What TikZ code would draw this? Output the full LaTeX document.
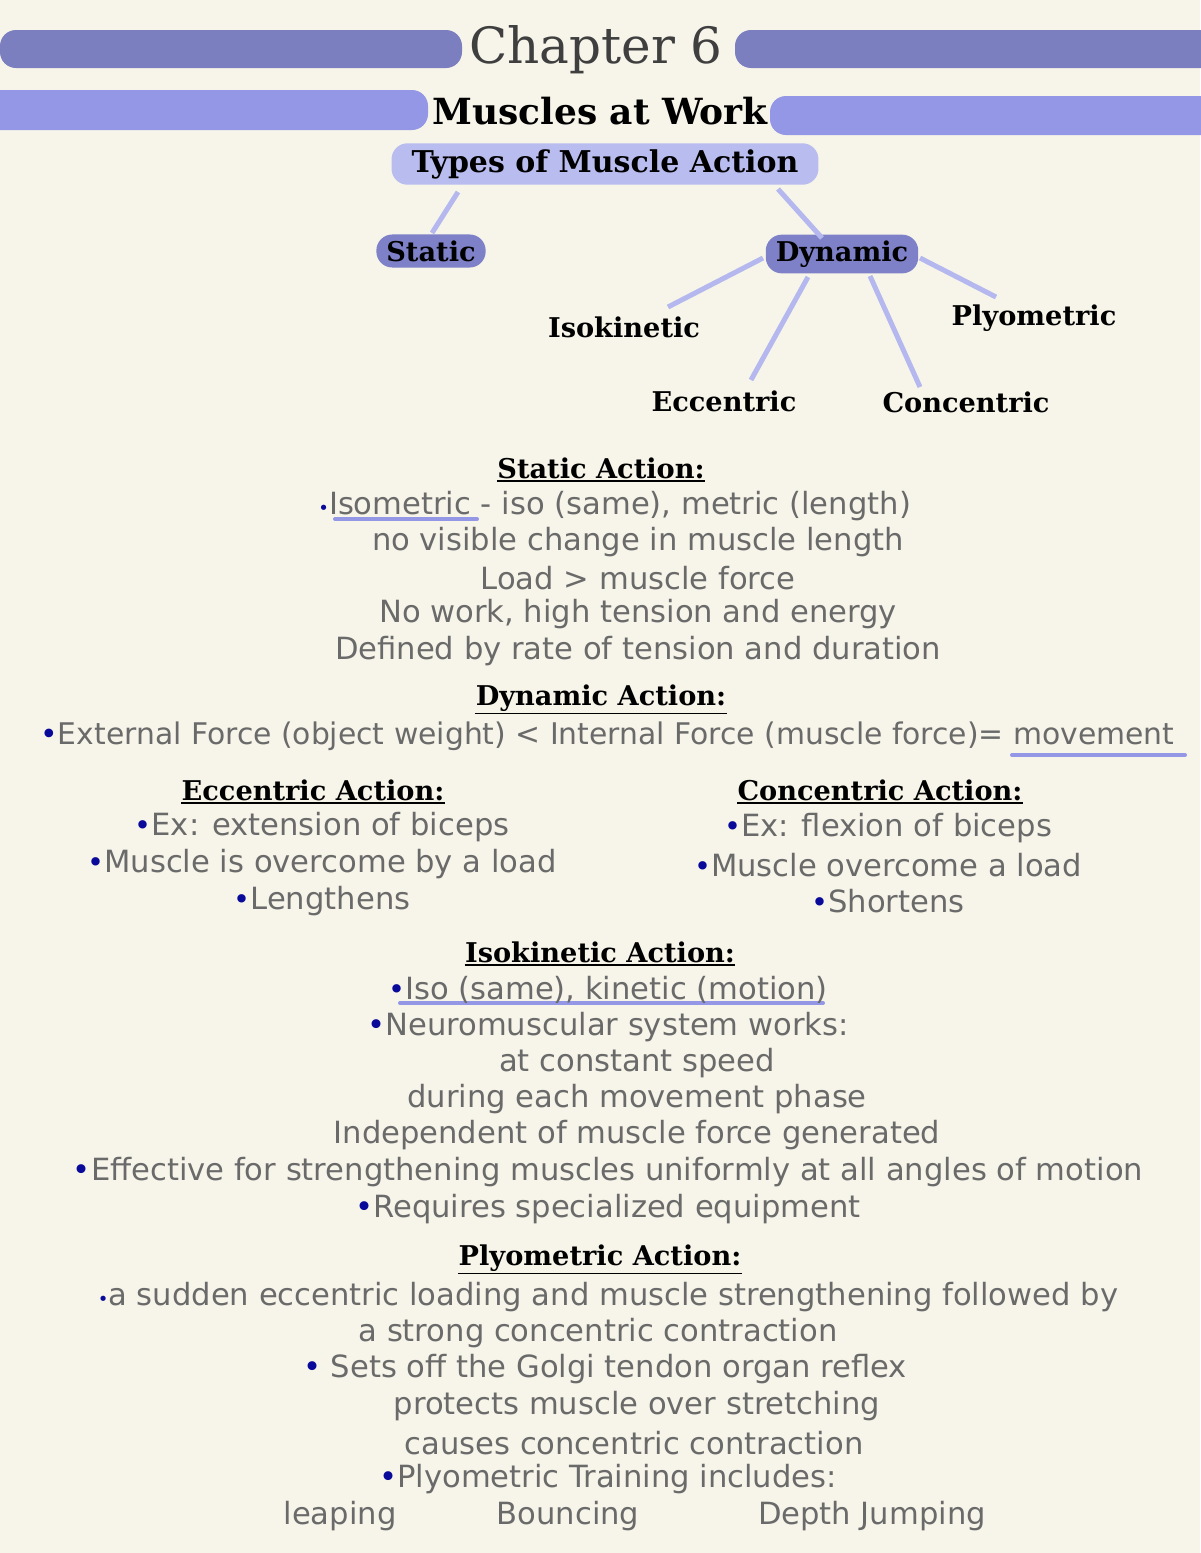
\documentclass[tikz,border=0pt]{standalone}
\usepackage{fontspec}
\setmainfont{Liberation Sans}
\newfontfamily\bd{DejaVu Sans}
\newfontfamily\hd{DejaVu Serif}
\definecolor{bg}{HTML}{F7F5E9}
\definecolor{barA}{HTML}{7B7EBF}
\definecolor{barB}{HTML}{9397E6}
\definecolor{boxA}{HTML}{B9BCEF}
\definecolor{boxB}{HTML}{7E81C8}
\definecolor{ln}{HTML}{B5B8EE}
\definecolor{bul}{HTML}{0A0A9A}
\definecolor{txt}{HTML}{6A6A6A}
\begin{document}
\begin{tikzpicture}[x=0.5pt,y=-0.5pt,
 body/.style={font=\bd\fontsize{15.3}{18}\selectfont,text=txt,inner sep=0},
 head/.style={font=\hd\bfseries\fontsize{13.6}{16}\selectfont,inner sep=0,
   append after command={([yshift=-1pt]\tikzlastnode.south west) edge[black,line width=0.7pt] ([yshift=-1pt]\tikzlastnode.south east)}},
 tree/.style={font=\hd\bfseries\fontsize{13.6}{16}\selectfont,inner sep=0},
 pill/.style={rounded corners=8pt,inner xsep=6pt,inner ysep=3pt},
 conn/.style={ln,line width=2.5pt},
 hl/.style={barB,line width=2pt,line cap=round}]
\fill[bg] (0,0) rectangle (1200,1553);
\useasboundingbox (0,0) rectangle (1200,1553);
% bars
\fill[barA,rounded corners=8pt] (0,30) rectangle (462,68);
\fill[barA,rounded corners=8pt] (735,30) rectangle (1230,68);
\fill[barB,rounded corners=8pt] (-20,90) rectangle (428,130);
\fill[barB,rounded corners=8pt] (770,96) rectangle (1230,135);
\node[font=\hd\fontsize{25}{30}\selectfont,text=txt!60!black,inner sep=0] (ch) at (596,50) {Chapter 6};
\node[font=\hd\bfseries\fontsize{18}{22}\selectfont,inner sep=0] (mw) at (600,111) {Muscles at Work};
% tree
\node[tree,fill=boxA,pill,font=\hd\bfseries\fontsize{15}{18}\selectfont,inner xsep=10pt] (types) at (605,164) {Types of Muscle Action};
\node[tree,fill=boxB,pill,inner xsep=5pt] (st) at (431,251) {Static};
\node[tree,fill=boxB,pill,inner xsep=5pt] (dy) at (842,254) {Dynamic};
\node[tree] (iso) at (624,327) {Isokinetic};
\node[tree] (ply) at (1034,318) {Plyometric};
\node[tree] (ecc) at (724,401) {Eccentric};
\node[tree] (con) at (966,402) {Concentric};
\draw[conn] (458,192) -- (432,233);
\draw[conn] (778,189) -- (822,238);
\draw[conn] (763,258) -- (668,307);
\draw[conn] (920,258) -- (996,297);
\draw[conn] (808,277) -- (751,380);
\draw[conn] (870,276) -- (920,387);
% static
\node[head] (sa) at (601,468) {Static Action:};
\draw[hl] (335,519) -- (477,519);
\node[body,anchor=west] (s1) at (318,506) {\textcolor{bul}{\small\textbullet}Isometric - iso (same), metric (length)};
\node[body] (s2) at (638,542) {no visible change in muscle length};
\node[body] (s3) at (638,578) {Load > muscle force};
\node[body] (s4) at (638,614) {No work, high tension and energy};
\node[body] (s5) at (638,651) {Defined by rate of tension and duration};
% dynamic
\node[head] (da) at (601,698) {Dynamic Action:};
\draw[hl] (1012,755) -- (1185,755);
\node[body,anchor=west,font=\bd\fontsize{14.9}{18}\selectfont] (d1) at (40,736) {\textcolor{bul}{\textbullet}External Force (object weight) < Internal Force (muscle force)= movement};
% eccentric / concentric
\node[head] (ea) at (313,790) {Eccentric Action:};
\node[body] (e1) at (322,827) {\textcolor{bul}{\Large\textbullet}Ex: extension of biceps};
\node[body] (e2) at (322,864) {\textcolor{bul}{\Large\textbullet}Muscle is overcome by a load};
\node[body] (e3) at (322,901) {\textcolor{bul}{\Large\textbullet}Lengthens};
\node[head] (ca) at (880,790) {Concentric Action:};
\node[body] (c1) at (888,828) {\textcolor{bul}{\Large\textbullet}Ex: flexion of biceps};
\node[body] (c2) at (888,865) {\textcolor{bul}{\Large\textbullet}Muscle overcome a load};
\node[body] (c3) at (888,901) {\textcolor{bul}{\Large\textbullet}Shortens};
% isokinetic
\node[head] (ia) at (600,952) {Isokinetic Action:};
\draw[hl] (400,1003) -- (823,1003);
\node[body] (i1) at (608,990) {\textcolor{bul}{\Large\textbullet}Iso (same), kinetic (motion)};
\node[body] (i2) at (608,1027) {\textcolor{bul}{\textbullet}Neuromuscular system works:};
\node[body] (i3) at (637,1063) {at constant speed};
\node[body] (i4) at (637,1099) {during each movement phase};
\node[body] (i5) at (637,1135) {Independent of muscle force generated};
\node[body] (i6) at (608,1172) {\textcolor{bul}{\textbullet}Effective for strengthening muscles uniformly at all angles of motion};
\node[body] (i7) at (608,1209) {\textcolor{bul}{\textbullet}Requires specialized equipment};
% plyometric
\node[head] (pa) at (600,1258) {Plyometric Action:};
\node[body] (p1) at (608,1297) {\textcolor{bul}{\small\textbullet}a sudden eccentric loading and muscle strengthening followed by};
\node[body] (p2) at (598,1333) {a strong concentric contraction};
\node[body] (p3) at (605,1369) {\textcolor{bul}{\textbullet} Sets off the Golgi tendon organ reflex};
\node[body] (p4) at (637,1406) {protects muscle over stretching};
\node[body] (p5) at (634,1443) {causes concentric contraction};
\node[body] (p6) at (608,1479) {\textcolor{bul}{\textbullet}Plyometric Training includes:};
\node[body] (p7) at (340,1516) {leaping};
\node[body] (p8) at (568,1516) {Bouncing};
\node[body] (p9) at (872,1516) {Depth Jumping};
\end{tikzpicture}
\end{document}
